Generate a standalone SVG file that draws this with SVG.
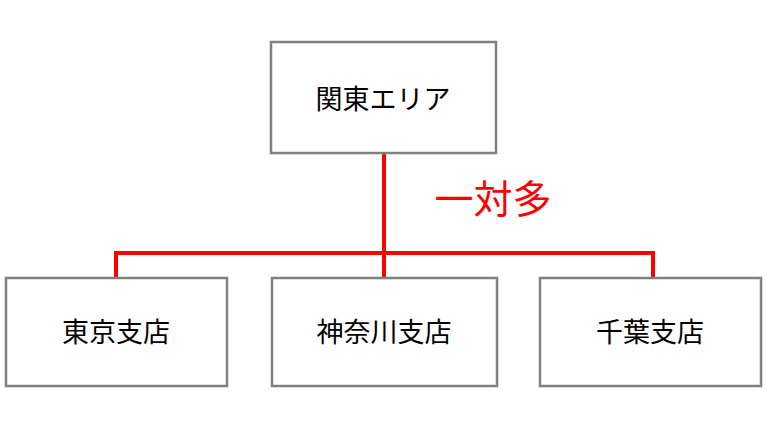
<svg xmlns="http://www.w3.org/2000/svg" width="768" height="432" viewBox="0 0 768 432">
<style>
.box{fill:#fff;stroke:#808080;stroke-width:2.5}
.t{font-family:"Noto Sans CJK JP","Noto Sans",sans-serif;font-size:27px;fill:#000;text-anchor:middle;dominant-baseline:central}
.c{fill:none;stroke:#ff0000;stroke-width:4}
</style>
<rect width="768" height="432" fill="#fff"/>
<g id="connectors">
<path class="c" d="M384 153V278M116 278V253H653V278"/>
</g>
<text x="493" y="196" font-family="Noto Sans CJK JP,sans-serif" font-size="39" fill="#ff0000" text-anchor="middle" dominant-baseline="central">一対多</text>
<g id="kanto"><rect class="box" x="271" y="42" width="225" height="111"/><text class="t" x="383" y="97">関東エリア</text></g>
<g id="tokyo"><rect class="box" x="6" y="278" width="221" height="108"/><text class="t" x="116" y="330">東京支店</text></g>
<g id="kanagawa"><rect class="box" x="272" y="278" width="225" height="108"/><text class="t" x="384" y="330">神奈川支店</text></g>
<g id="chiba"><rect class="box" x="540" y="278" width="221" height="108"/><text class="t" x="650" y="330">千葉支店</text></g>
</svg>
